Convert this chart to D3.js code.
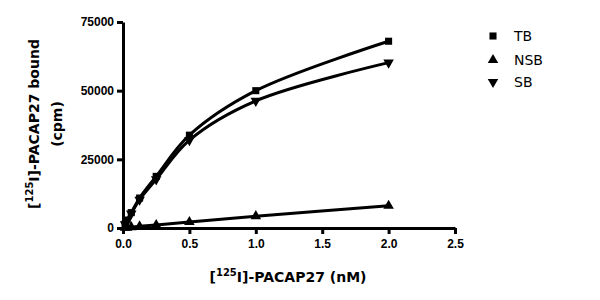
<!DOCTYPE html>
<html>
<head>
<meta charset="utf-8">
<script src="https://cdn.jsdelivr.net/npm/d3@7"></script>
<style>
  body { margin: 0; background: #fff; }
  svg { font-family: "DejaVu Sans", sans-serif; }
  .axis path, .axis line { stroke: #000; stroke-width: 3; }
  .axis text { font-size: 12px; font-weight: bold; fill: #000; }
</style>
</head>
<body>
<div id="vis"></div>
<script>
// concentrations (nM) and counts (cpm)
var conc = [0.0156, 0.03125, 0.0625, 0.125, 0.25, 0.5, 1, 2];
var tb  = [1450, 2900, 5600, 10900, 18800, 33800, 50000, 68000];
var nsb = [80, 150, 300, 600, 1100, 2200, 4300, 8100];
var sb  = [1350, 2750, 5300, 10300, 17700, 32000, 46300, 60200];
var xTicks = [0, 0.5, 1, 1.5, 2, 2.5];
var yTicks = [0, 25000, 50000, 75000];
var seriesNames = ["TB", "NSB", "SB"];

var width = 600, height = 300;
var x = d3.scaleLinear().domain([0, 2.5]).range([123, 455]);
var y = d3.scaleLinear().domain([0, 75000]).range([228, 22]);

var svg = d3.select("#vis").append("svg")
  .attr("width", width)
  .attr("height", height);

// axes
svg.append("g")
  .attr("class", "axis")
  .attr("transform", "translate(0," + y(0) + ")")
  .call(d3.axisBottom(x).tickValues(xTicks).tickFormat(d3.format(".1f")).tickSize(6).tickSizeOuter(0).tickPadding(5));

svg.append("g")
  .attr("class", "axis")
  .attr("transform", "translate(" + x(0) + ",0)")
  .call(d3.axisLeft(y).tickValues(yTicks).tickFormat(d3.format("d")).tickSize(6).tickSizeOuter(0).tickPadding(3));

// curves through the points
var line = d3.line()
  .x(function(d) { return x(d[0]); })
  .y(function(d) { return y(d[1]); })
  .curve(d3.curveCatmullRom.alpha(0.5));

var series = [tb, nsb, sb];
var symbols = [d3.symbolSquare, d3.symbolTriangle, d3.symbolTriangle];
var rot = [0, 0, 180];
var sizes = [50, 48, 48];

series.forEach(function(vals, k) {
  var pts = conc.map(function(c, i) { return [c, vals[i]]; });
  svg.append("path")
    .datum(pts)
    .attr("d", line)
    .attr("fill", "none")
    .attr("stroke", "#000")
    .attr("stroke-width", 3);

  svg.append("g").selectAll("path")
    .data(pts)
    .join("path")
    .attr("d", d3.symbol().type(symbols[k]).size(sizes[k]))
    .attr("transform", function(d) { return "translate(" + x(d[0]) + "," + y(d[1]) + ") rotate(" + rot[k] + ")"; })
    .attr("fill", "#000");
});

// legend
var legY = [36, 60, 82];
seriesNames.forEach(function(name, k) {
  svg.append("path")
    .attr("d", d3.symbol().type(symbols[k]).size(sizes[k]))
    .attr("transform", "translate(493," + legY[k] + ") rotate(" + rot[k] + ")")
    .attr("fill", "#000");
  svg.append("text")
    .attr("x", 514)
    .attr("y", legY[k] + 5)
    .attr("font-size", 14)
    .text(name);
});

// x title
var xt = svg.append("text")
  .attr("x", 288)
  .attr("y", 282)
  .attr("text-anchor", "middle")
  .attr("font-size", 14)
  .attr("font-weight", "bold");
xt.append("tspan").text("[");
xt.append("tspan").attr("font-size", 10).attr("dy", -6).text("125");
xt.append("tspan").attr("dy", 6).text("I]-PACAP27 (nM)");

// y title (two lines)
var yt = svg.append("text")
  .attr("transform", "translate(39,124) rotate(-90)")
  .attr("text-anchor", "middle")
  .attr("font-size", 14)
  .attr("font-weight", "bold");
yt.append("tspan").text("[");
yt.append("tspan").attr("font-size", 10).attr("dy", -6).text("125");
yt.append("tspan").attr("dy", 6).text("I]-PACAP27 bound");

svg.append("text")
  .attr("transform", "translate(62,124) rotate(-90)")
  .attr("text-anchor", "middle")
  .attr("font-size", 14)
  .attr("font-weight", "bold")
  .text("(cpm)");
</script>
</body>
</html>
